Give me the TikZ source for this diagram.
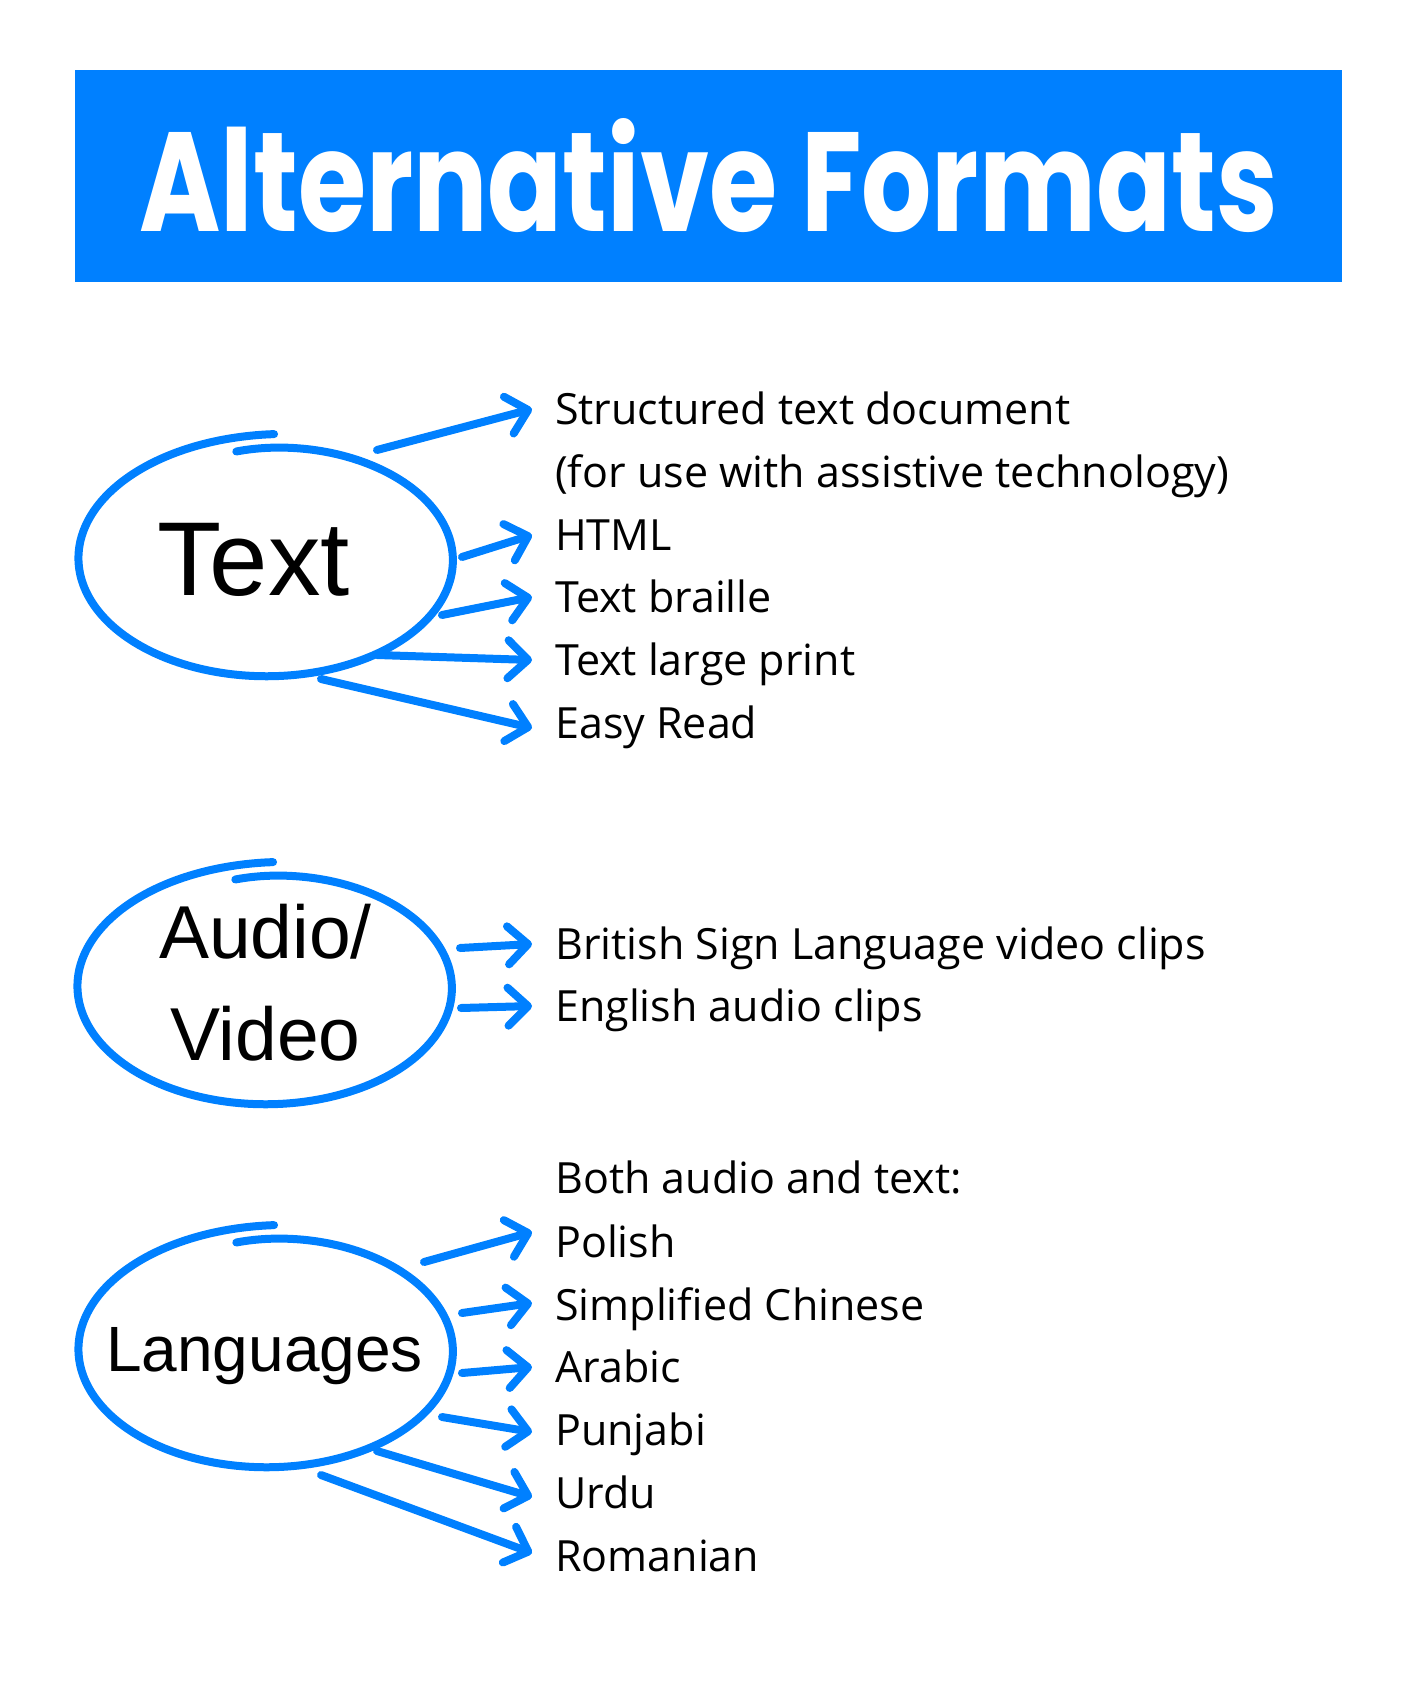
\documentclass[tikz,border=0pt]{standalone}
\usepackage{fontspec}
\setmainfont{Liberation Sans}
\newfontfamily\itemfont{Open Sans}
\newfontfamily\titlefont{Poppins}
\usetikzlibrary{arrows.meta,positioning}
\definecolor{brandblue}{RGB}{0,128,255}
\tikzset{
  banner/.style={fill=brandblue, text=white, inner sep=0pt, minimum width=1267pt, minimum height=212pt},
  item/.style={anchor=base west, inner sep=0pt, font=\itemfont\fontsize{43}{52}\selectfont},
  hub/.style={anchor=base, inner sep=0pt},
  loopline/.style={draw=brandblue, line width=8pt, line cap=round, line join=round},
  pointer/.style={draw=brandblue, line width=8pt, line cap=round, line join=round,
    -{Straight Barb[length=20pt,width=38pt,round]}},
}
\newcommand{\handloop}[2]{%
  \draw[loopline] plot[domain=0:372, samples=140, smooth, variable=\p]
    ({#1 + 186*(1+0.086*exp(-\p/50)-0.05*exp(-(372-\p)/25))*cos(272-\p)},
     {#2 + 116*(1+0.086*exp(-\p/50)-0.05*exp(-(372-\p)/25))*sin(272-\p)});
}
\newcommand{\tipof}[1]{([xshift=-23pt,yshift=15pt]#1.base west)}
\begin{document}
\begin{tikzpicture}[x=1pt, y=-1pt]
\useasboundingbox (0,0) rectangle (1413,1688);
\node[banner] (head) at (708.5,176) {\resizebox{1138pt}{113pt}{\titlefont\bfseries Alternative Formats}};

\handloop{267}{560}
\node[hub, font=\fontsize{105}{105}\selectfont] (txt) at (253.5,595) {Text};
\node[item] (s1) at (555,424) {Structured text document};
\node[item] (s2) at (555,487) {(for use with assistive technology)};
\node[item] (h1) at (555,550) {HTML};
\node[item] (b1) at (555,612) {Text braille};
\node[item] (l1) at (555,675) {Text large print};
\node[item] (e1) at (555,738) {Easy Read};
\coordinate (t1) at (377,450);
\coordinate (t2) at (462,557);
\coordinate (t3) at (442,615);
\coordinate (t4) at (377,655);
\coordinate (t5) at (321,679);
\draw[pointer] (t1) -- \tipof{s1};
\draw[pointer] (t2) -- \tipof{h1};
\draw[pointer] (t3) -- \tipof{b1};
\draw[pointer] (t4) -- \tipof{l1};
\draw[pointer] (t5) -- ([xshift=-23pt,yshift=10pt]e1.base west);

\handloop{266}{988}
\node[hub, font=\fontsize{75}{75}\selectfont] (aud) at (265.5,958) {Audio/};
\node[hub, font=\fontsize{75}{75}\selectfont] (vid) at (265.5,1060) {Video};
\node[item] (bsl) at (555,959) {British Sign Language video clips};
\node[item] (eng) at (555,1021) {English audio clips};
\coordinate (a1) at (460,948);
\coordinate (a2) at (461,1008);
\draw[pointer] (a1) -- \tipof{bsl};
\draw[pointer] (a2) -- \tipof{eng};

\handloop{267}{1351}
\node[hub, font=\fontsize{64}{64}\selectfont] (lang) at (264.5,1371) {Languages};
\node[item] (both) at (555,1193) {Both audio and text:};
\node[item] (pol) at (555,1257) {Polish};
\node[item] (chi) at (555,1320) {Simplified Chinese};
\node[item] (ara) at (555,1382) {Arabic};
\node[item] (pun) at (555,1445) {Punjabi};
\node[item] (urd) at (555,1508) {Urdu};
\node[item] (rom) at (555,1571) {Romanian};
\coordinate (g1) at (424,1262);
\coordinate (g2) at (462,1313);
\coordinate (g3) at (462,1373);
\coordinate (g4) at (442,1417);
\coordinate (g5) at (377,1451);
\coordinate (g6) at (321,1475);
\draw[pointer] (g1) -- ([xshift=-23pt,yshift=25pt]pol.base west);
\draw[pointer] (g2) -- ([xshift=-23pt,yshift=17pt]chi.base west);
\draw[pointer] (g3) -- \tipof{ara};
\draw[pointer] (g4) -- ([xshift=-23pt,yshift=13pt]pun.base west);
\draw[pointer] (g5) -- ([xshift=-23pt,yshift=11pt]urd.base west);
\draw[pointer] (g6) -- ([xshift=-23pt,yshift=18pt]rom.base west);
\end{tikzpicture}
\end{document}
